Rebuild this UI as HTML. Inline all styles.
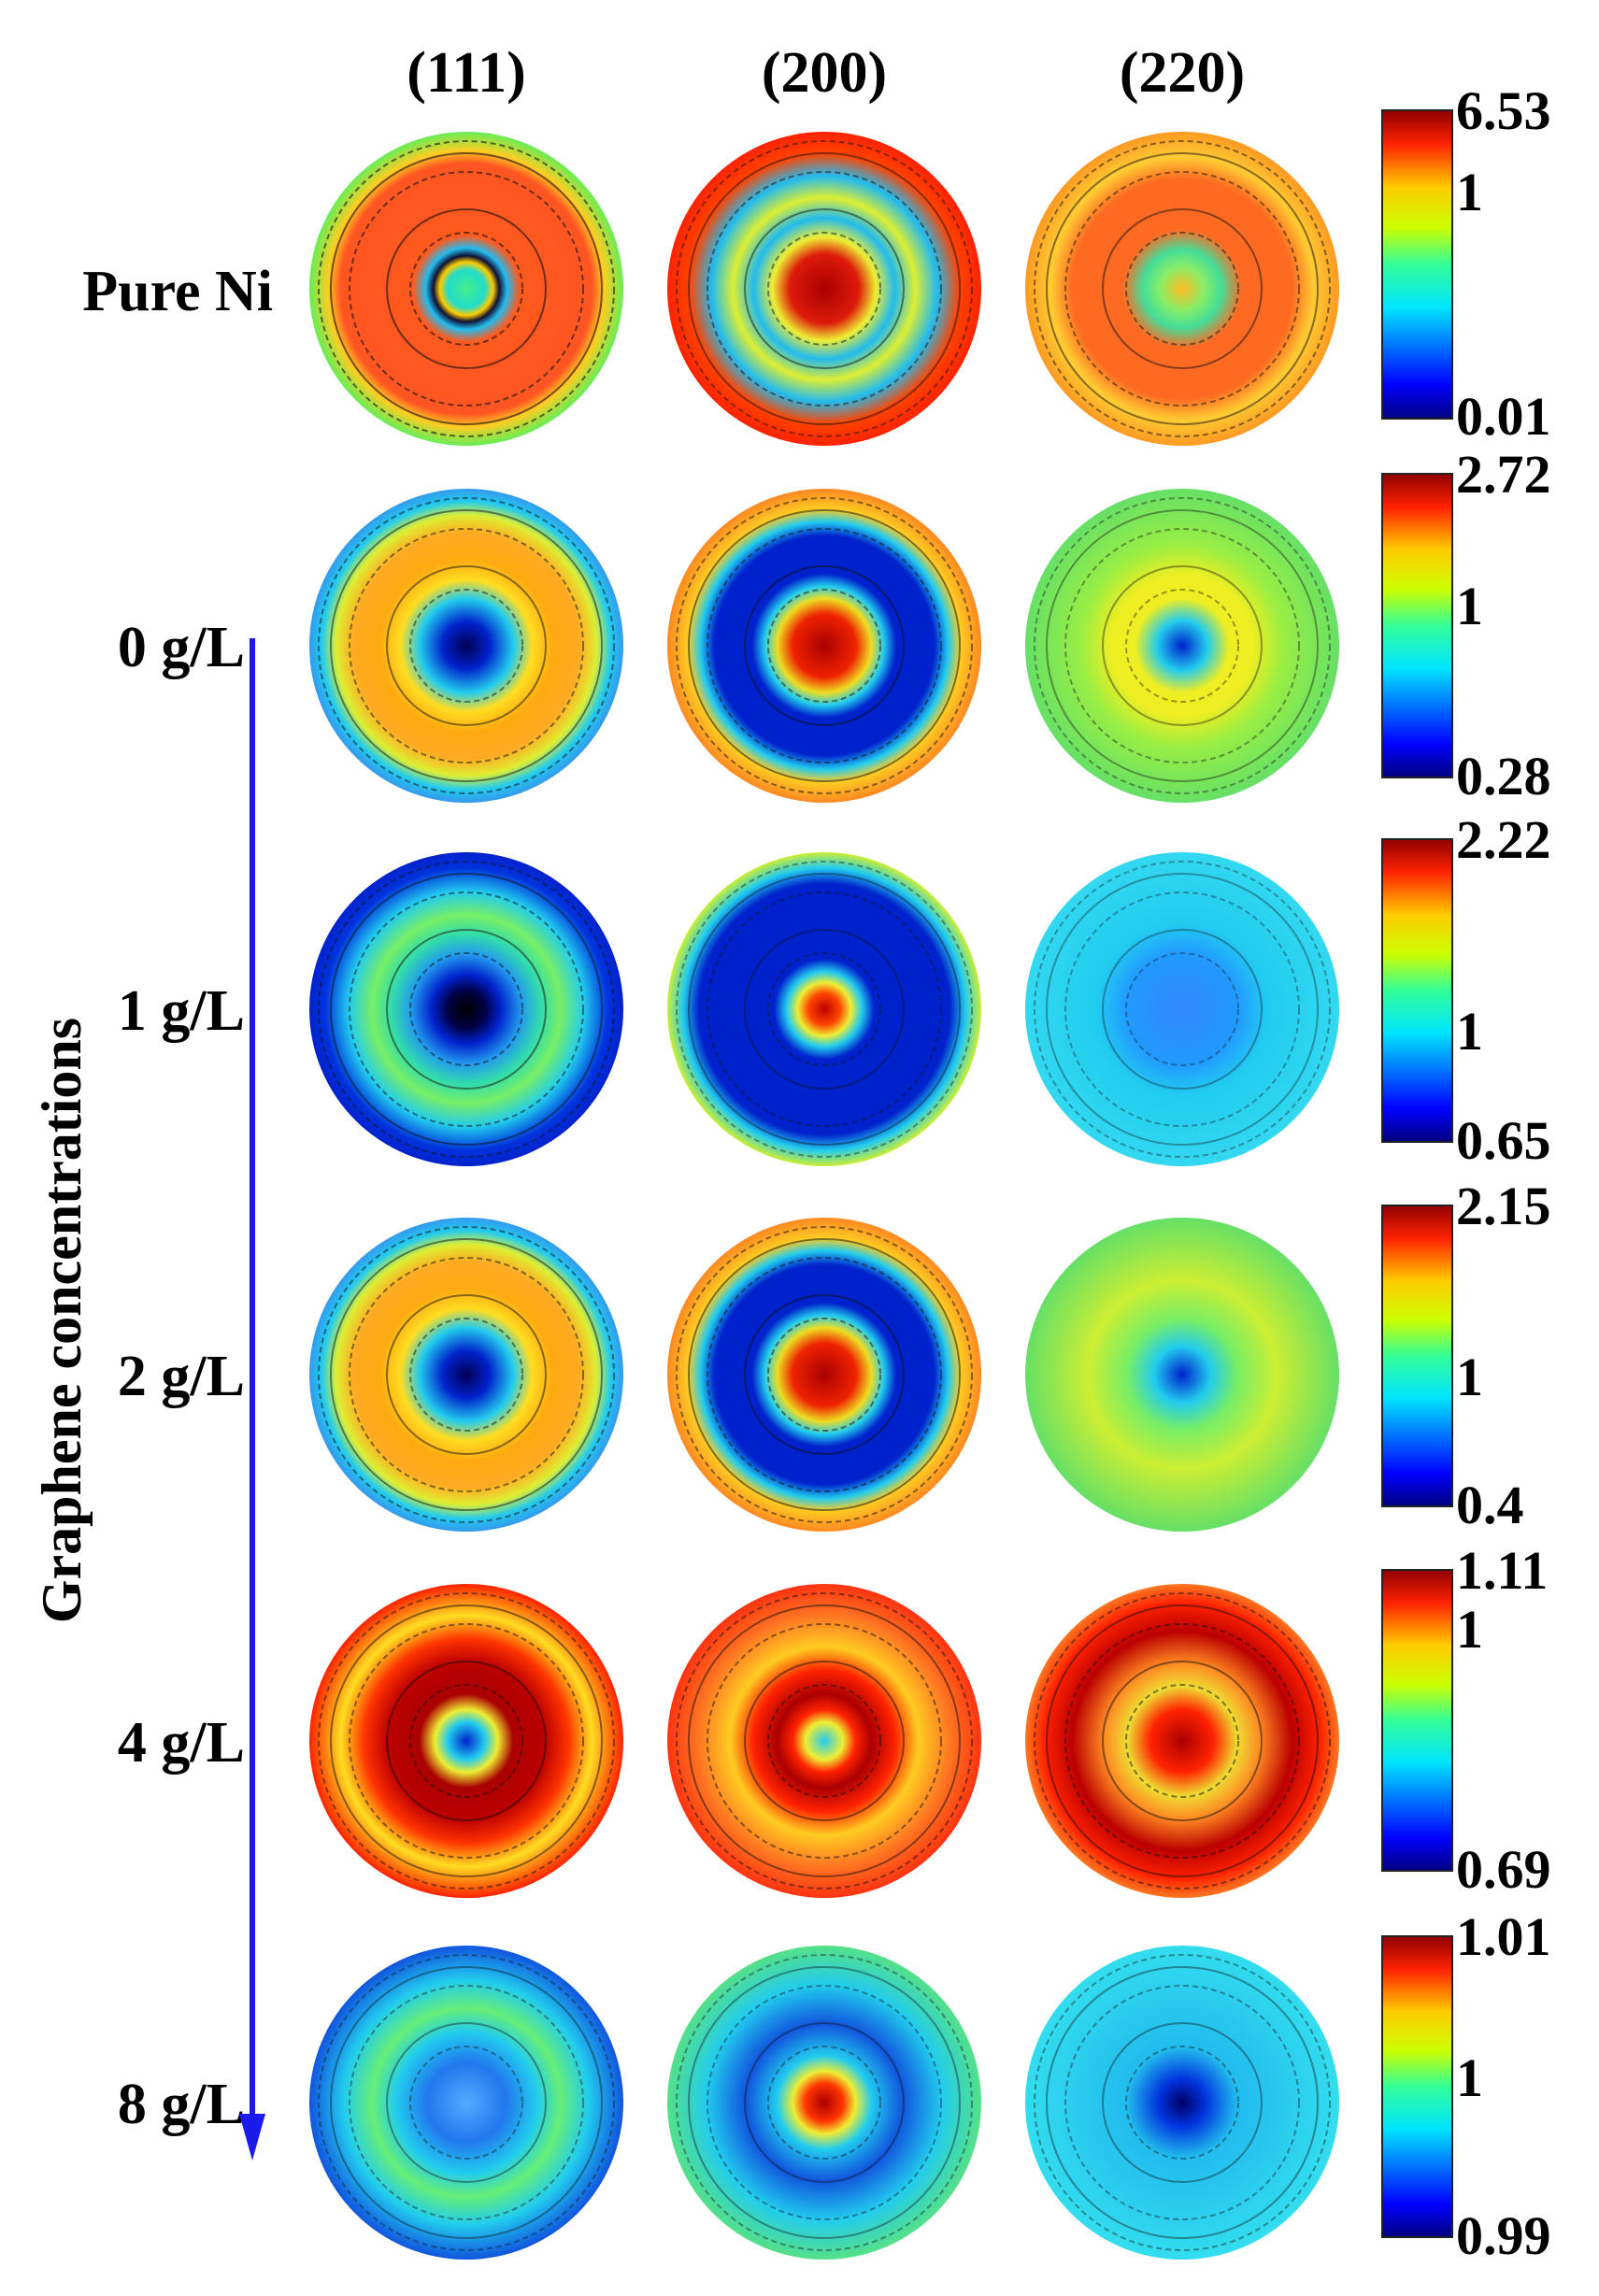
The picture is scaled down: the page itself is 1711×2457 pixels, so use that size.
<!DOCTYPE html>
<html><head><meta charset="utf-8"><style>
html,body{margin:0;padding:0;background:#fff}
svg{display:block}
text{font-family:"Liberation Serif",serif;font-weight:bold;fill:#000}
</style></head><body>
<svg width="1711" height="2457" viewBox="0 0 1711 2457" xmlns="http://www.w3.org/2000/svg">
<defs>
<linearGradient id="jet" x1="0" y1="1" x2="0" y2="0">
<stop offset="0" stop-color="#00007f"/><stop offset="0.11" stop-color="#0000ff"/><stop offset="0.36" stop-color="#00e5ff"/><stop offset="0.5" stop-color="#33ff99"/><stop offset="0.62" stop-color="#ccff00"/><stop offset="0.75" stop-color="#ffcc00"/><stop offset="0.89" stop-color="#ff2200"/><stop offset="1" stop-color="#8f0000"/>
</linearGradient>
<radialGradient id="a1"><stop offset="0" stop-color="#44ee88"/><stop offset="0.12" stop-color="#22ddcc"/><stop offset="0.17" stop-color="#ffcc00"/><stop offset="0.21" stop-color="#111133"/><stop offset="0.26" stop-color="#22bbee"/><stop offset="0.34" stop-color="#ff5a1e"/><stop offset="0.8" stop-color="#ff5522"/><stop offset="0.88" stop-color="#ffcc22"/><stop offset="1" stop-color="#66ee55"/></radialGradient>
<radialGradient id="a2"><stop offset="0" stop-color="#aa0000"/><stop offset="0.22" stop-color="#dd1a0a"/><stop offset="0.33" stop-color="#eeee33"/><stop offset="0.45" stop-color="#22bbee"/><stop offset="0.58" stop-color="#ddee33"/><stop offset="0.72" stop-color="#22bbee"/><stop offset="0.86" stop-color="#ff4400"/><stop offset="1" stop-color="#ff2200"/></radialGradient>
<radialGradient id="a3"><stop offset="0" stop-color="#ffbb22"/><stop offset="0.14" stop-color="#88ee66"/><stop offset="0.25" stop-color="#44dd99"/><stop offset="0.38" stop-color="#ff6a22"/><stop offset="0.7" stop-color="#ff6a22"/><stop offset="0.84" stop-color="#ffcc33"/><stop offset="1" stop-color="#ff9922"/></radialGradient>
<radialGradient id="b1"><stop offset="0" stop-color="#000055"/><stop offset="0.15" stop-color="#0022cc"/><stop offset="0.3" stop-color="#22ccee"/><stop offset="0.42" stop-color="#ffdd22"/><stop offset="0.55" stop-color="#ffaa11"/><stop offset="0.72" stop-color="#ffaa22"/><stop offset="0.83" stop-color="#ddee33"/><stop offset="0.92" stop-color="#22ccee"/><stop offset="1" stop-color="#3399ee"/></radialGradient>
<radialGradient id="b2"><stop offset="0" stop-color="#aa0000"/><stop offset="0.2" stop-color="#ee2200"/><stop offset="0.3" stop-color="#eedd22"/><stop offset="0.38" stop-color="#22ccee"/><stop offset="0.46" stop-color="#0022cc"/><stop offset="0.7" stop-color="#0022cc"/><stop offset="0.79" stop-color="#22ccee"/><stop offset="0.87" stop-color="#ffcc22"/><stop offset="1" stop-color="#ff8822"/></radialGradient>
<radialGradient id="b3"><stop offset="0" stop-color="#0022cc"/><stop offset="0.16" stop-color="#22ccee"/><stop offset="0.3" stop-color="#eeee22"/><stop offset="0.45" stop-color="#eeee22"/><stop offset="0.65" stop-color="#99ee44"/><stop offset="1" stop-color="#66e066"/></radialGradient>
<radialGradient id="c1"><stop offset="0" stop-color="#000000"/><stop offset="0.12" stop-color="#000044"/><stop offset="0.22" stop-color="#0022cc"/><stop offset="0.35" stop-color="#2299ee"/><stop offset="0.48" stop-color="#33ddaa"/><stop offset="0.6" stop-color="#77ee66"/><stop offset="0.75" stop-color="#22ccee"/><stop offset="0.9" stop-color="#0033dd"/><stop offset="1" stop-color="#0022cc"/></radialGradient>
<radialGradient id="c2"><stop offset="0" stop-color="#bb0000"/><stop offset="0.1" stop-color="#ff4400"/><stop offset="0.17" stop-color="#eeee33"/><stop offset="0.24" stop-color="#22ccee"/><stop offset="0.32" stop-color="#0022cc"/><stop offset="0.8" stop-color="#0022cc"/><stop offset="0.9" stop-color="#22ccee"/><stop offset="1" stop-color="#ccee33"/></radialGradient>
<radialGradient id="c3"><stop offset="0" stop-color="#3388ff"/><stop offset="0.35" stop-color="#2299ff"/><stop offset="0.55" stop-color="#22ccf0"/><stop offset="1" stop-color="#33d8f0"/></radialGradient>
<radialGradient id="d3"><stop offset="0" stop-color="#0022cc"/><stop offset="0.18" stop-color="#22ccee"/><stop offset="0.35" stop-color="#77ee66"/><stop offset="0.6" stop-color="#ccee33"/><stop offset="1" stop-color="#66e066"/></radialGradient>
<radialGradient id="e1"><stop offset="0" stop-color="#0022cc"/><stop offset="0.12" stop-color="#22ccee"/><stop offset="0.2" stop-color="#eeee33"/><stop offset="0.3" stop-color="#aa0000"/><stop offset="0.5" stop-color="#bb0000"/><stop offset="0.65" stop-color="#ff3300"/><stop offset="0.8" stop-color="#ffdd22"/><stop offset="1" stop-color="#ff2200"/></radialGradient>
<radialGradient id="e2"><stop offset="0" stop-color="#22ccee"/><stop offset="0.12" stop-color="#eeee33"/><stop offset="0.2" stop-color="#ff2200"/><stop offset="0.3" stop-color="#aa0000"/><stop offset="0.45" stop-color="#ff2200"/><stop offset="0.6" stop-color="#ffcc22"/><stop offset="0.8" stop-color="#ff7722"/><stop offset="1" stop-color="#ff3311"/></radialGradient>
<radialGradient id="e3"><stop offset="0" stop-color="#aa0000"/><stop offset="0.2" stop-color="#ff2200"/><stop offset="0.35" stop-color="#eedd33"/><stop offset="0.5" stop-color="#ff8822"/><stop offset="0.7" stop-color="#bb0000"/><stop offset="0.88" stop-color="#ff2200"/><stop offset="1" stop-color="#ff7722"/></radialGradient>
<radialGradient id="f1"><stop offset="0" stop-color="#55aaff"/><stop offset="0.25" stop-color="#2277ee"/><stop offset="0.45" stop-color="#22ccee"/><stop offset="0.6" stop-color="#66ee77"/><stop offset="0.78" stop-color="#22ccee"/><stop offset="1" stop-color="#1155dd"/></radialGradient>
<radialGradient id="f2"><stop offset="0" stop-color="#aa0000"/><stop offset="0.12" stop-color="#ff3300"/><stop offset="0.2" stop-color="#eeee33"/><stop offset="0.3" stop-color="#22ccee"/><stop offset="0.5" stop-color="#1155dd"/><stop offset="0.75" stop-color="#22ccee"/><stop offset="1" stop-color="#55e088"/></radialGradient>
<radialGradient id="f3"><stop offset="0" stop-color="#000066"/><stop offset="0.15" stop-color="#0033dd"/><stop offset="0.35" stop-color="#22bbee"/><stop offset="1" stop-color="#33ddee"/></radialGradient>
<g id="ct" fill="none" stroke="#111" stroke-width="2">
<circle r="60" stroke-dasharray="6 4"/><circle r="85"/><circle r="125" stroke-dasharray="6 4"/><circle r="145"/><circle r="158" stroke-dasharray="6 4"/>
</g>
</defs>

<text x="499" y="98" font-size="62" text-anchor="middle">(111)</text>
<text x="882" y="98" font-size="62" text-anchor="middle">(200)</text>
<text x="1265" y="98" font-size="62" text-anchor="middle">(220)</text>

<g font-size="62" text-anchor="end">
<text x="292" y="332">Pure Ni</text>
<text x="262" y="713">0 g/L</text>
<text x="262" y="1102">1 g/L</text>
<text x="262" y="1493">2 g/L</text>
<text x="262" y="1885">4 g/L</text>
<text x="262" y="2272">8 g/L</text>
</g>
<text transform="translate(86,1413) rotate(-90)" font-size="60" text-anchor="middle">Graphene concentrations</text>
<line x1="270" y1="683" x2="270" y2="2270" stroke="#1a1aee" stroke-width="6"/>
<polygon points="256,2262 284,2262 270,2312" fill="#1a1aee"/>

<g>
<circle cx="499" cy="309" r="168" fill="url(#a1)"/><use href="#ct" x="499" y="309" opacity="0.6"/>
<circle cx="882" cy="309" r="168" fill="url(#a2)"/><use href="#ct" x="882" y="309" opacity="0.5"/>
<circle cx="1265" cy="309" r="168" fill="url(#a3)"/><use href="#ct" x="1265" y="309" opacity="0.5"/>
<circle cx="499" cy="691" r="168" fill="url(#b1)"/><use href="#ct" x="499" y="691" opacity="0.5"/>
<circle cx="882" cy="691" r="168" fill="url(#b2)"/><use href="#ct" x="882" y="691" opacity="0.5"/>
<circle cx="1265" cy="691" r="168" fill="url(#b3)"/><use href="#ct" x="1265" y="691" opacity="0.4"/>
<circle cx="499" cy="1080" r="168" fill="url(#c1)"/><use href="#ct" x="499" y="1080" opacity="0.5"/>
<circle cx="882" cy="1080" r="168" fill="url(#c2)"/><use href="#ct" x="882" y="1080" opacity="0.4"/>
<circle cx="1265" cy="1080" r="168" fill="url(#c3)"/><use href="#ct" x="1265" y="1080" opacity="0.35"/>
<circle cx="499" cy="1471" r="168" fill="url(#b1)"/><use href="#ct" x="499" y="1471" opacity="0.5"/>
<circle cx="882" cy="1471" r="168" fill="url(#b2)"/><use href="#ct" x="882" y="1471" opacity="0.5"/>
<circle cx="1265" cy="1471" r="168" fill="url(#d3)"/>
<circle cx="499" cy="1863" r="168" fill="url(#e1)"/><use href="#ct" x="499" y="1863" opacity="0.5"/>
<circle cx="882" cy="1863" r="168" fill="url(#e2)"/><use href="#ct" x="882" y="1863" opacity="0.5"/>
<circle cx="1265" cy="1863" r="168" fill="url(#e3)"/><use href="#ct" x="1265" y="1863" opacity="0.5"/>
<circle cx="499" cy="2250" r="168" fill="url(#f1)"/><use href="#ct" x="499" y="2250" opacity="0.4"/>
<circle cx="882" cy="2250" r="168" fill="url(#f2)"/><use href="#ct" x="882" y="2250" opacity="0.4"/>
<circle cx="1265" cy="2250" r="168" fill="url(#f3)"/><use href="#ct" x="1265" y="2250" opacity="0.4"/>
</g>

<g stroke="#222" stroke-width="2">
<rect x="1479" y="118" width="75" height="330" fill="url(#jet)"/>
<rect x="1479" y="507" width="75" height="325" fill="url(#jet)"/>
<rect x="1479" y="898" width="75" height="324" fill="url(#jet)"/>
<rect x="1479" y="1290" width="75" height="322" fill="url(#jet)"/>
<rect x="1479" y="1680" width="75" height="322" fill="url(#jet)"/>
<rect x="1479" y="2072" width="75" height="322" fill="url(#jet)"/>
</g>
<g font-size="58">
<text x="1558" y="138">6.53</text><text x="1558" y="225">1</text><text x="1558" y="465">0.01</text>
<text x="1558" y="527">2.72</text><text x="1558" y="668">1</text><text x="1558" y="850">0.28</text>
<text x="1558" y="918">2.22</text><text x="1558" y="1123">1</text><text x="1558" y="1240">0.65</text>
<text x="1558" y="1310">2.15</text><text x="1558" y="1493">1</text><text x="1558" y="1630">0.4</text>
<text x="1558" y="1700">1.11</text><text x="1558" y="1763">1</text><text x="1558" y="2020">0.69</text>
<text x="1558" y="2092">1.01</text><text x="1558" y="2243">1</text><text x="1558" y="2412">0.99</text>
</g>
</svg>
</body></html>
